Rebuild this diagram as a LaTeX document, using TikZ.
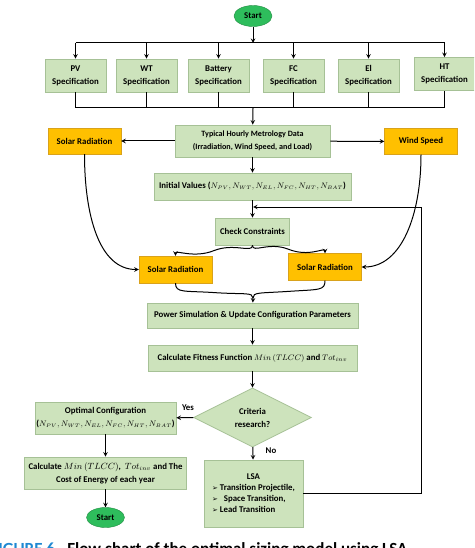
\documentclass[tikz,border=0pt]{standalone}
\usepackage{fontspec}
\setmainfont{Carlito}
\newfontfamily\symfont{DejaVu Sans}
\usepackage{amsmath}
\usepackage{xcolor}
\usetikzlibrary{shapes.geometric, arrows, positioning, calc}
\definecolor{boxgreen}{HTML}{CDE3BC}
\definecolor{boxedge}{HTML}{A6C196}
\definecolor{solarorange}{HTML}{FFC000}
\definecolor{solaredge}{HTML}{D9A21B}
\definecolor{startgreen}{HTML}{2EBD5C}
\definecolor{startedge}{HTML}{1F8A40}
\definecolor{capblue}{HTML}{1E88D2}
\tikzstyle{startstop} = [ellipse, minimum width=38pt, minimum height=21pt, inner sep=0pt, text centered, draw=startedge, fill=startgreen]
\tikzstyle{process} = [rectangle, minimum height=26pt, inner sep=1pt, text centered, align=center, draw=boxedge, line width=0.8pt, fill=boxgreen]
\tikzstyle{weather} = [rectangle, minimum width=73pt, minimum height=26pt, inner sep=1pt, text centered, draw=solaredge, fill=solarorange]
\tikzstyle{decision} = [diamond, minimum width=118pt, minimum height=59pt, inner sep=0pt, aspect=2, align=center, text centered, draw=boxedge, line width=0.8pt, fill=boxgreen]
\tikzstyle{arrow} = [line width=1pt,->,>=stealth]
\newcommand{\bul}{{\symfont\fontsize{7}{8}\selectfont ➢}}
\newcommand{\sizes}{{\fontsize{7.6}{9}\selectfont$N_{PV}, N_{WT}, N_{EL}, N_{FC}, N_{HT}, N_{BAT}$}}

\begin{document}
\begin{tikzpicture}[x=1pt, y=-1pt, every node/.style={font=\fontsize{8.8}{13}\selectfont\bfseries}]

    \clip (0,0) rectangle (474,548);
    \fill[white] (0,0) rectangle (474,548);

    % Inizio e specifiche
    \node (start) [startstop] at (253,16) {Start};
    \node (pv) [process, minimum width=61pt, minimum height=33pt] at (75.5,75.5) {PV\\Specification};
    \node (wt) [process, minimum width=61pt, minimum height=33pt, right of=pv, node distance=71pt] {WT\\Specification};
    \node (battery) [process, minimum width=61pt, minimum height=33pt, right of=wt, node distance=72pt] {Battery\\Specification};
    \node (fc) [process, minimum width=61pt, minimum height=33pt, right of=battery, node distance=75pt] {FC\\Specification};
    \node (el) [process, minimum width=61pt, minimum height=33pt, right of=fc, node distance=75pt] {El\\Specification};
    \node (ht) [process, minimum width=61pt, minimum height=33pt, right of=el, node distance=76pt, yshift=1.5pt] {HT\\Specification};

    % Dati meteo
    \node (typical) [process, minimum width=155pt, minimum height=32pt, font=\fontsize{8.1}{12.5}\selectfont\bfseries] at (252.5,141) {Typical Hourly Metrology Data\\(Irradiation, Wind Speed, and Load)};
    \node (solar) [weather] at (84.5,141) {Solar Radiation};
    \node (wind) [weather] at (421,141.5) {Wind Speed};
    \node (initial) [process, minimum width=197pt, minimum height=27pt, below of=typical, node distance=45.5pt] {Initial Values (\sizes)};
    \node (check) [process, minimum width=74pt, minimum height=27pt, below of=initial, node distance=45pt] {Check Constraints};
    \node (solarleft) [weather, minimum height=27pt] at (175.5,269.5) {Solar Radiation};
    \node (solarright) [weather, minimum height=27pt] at (325,267) {Solar Radiation};

    % Simulazione e valutazione
    \node (power) [process, minimum width=211pt, minimum height=25pt] at (252.5,315.5) {Power Simulation \& Update Configuration Parameters};
    \node (fitness) [process, minimum width=209pt, minimum height=26pt, below of=power, node distance=42.5pt] {Calculate Fitness Function {\fontsize{8.2}{9}\selectfont$Min\,(TLCC)$} and {\fontsize{8.2}{9}\selectfont$Tot_{inv}$}};
    \node (criteria) [decision, below of=fitness, node distance=59.5pt] {Criteria\\research?};
    \node (optimal) [process, minimum width=141pt, minimum height=32pt] at (105.5,418) {Optimal Configuration\\(\sizes)};
    \node (calcmin) [process, minimum width=162pt, minimum height=32pt, below of=optimal, node distance=55pt] {Calculate $Min\,(TLCC)$,\ \ $Tot_{inv}$ and The\\Cost of Energy of each year};
    \node (finish) [startstop, minimum height=20pt, below of=calcmin, node distance=44.5pt] {Start};
    \node (lsa) [process, minimum width=99pt, minimum height=67pt, inner sep=0pt] at (253.5,493.5) {\begin{tabular}{@{}c@{}}LSA\\[-2pt]\begin{tabular}{@{}l@{}}\bul\ Transition Projectile,\\[-2pt]\bul\ \ \ Space Transition,\\[-2pt]\bul\ Lead Transition\end{tabular}\end{tabular}};

    % Didascalia (tagliata in basso)
    \node [anchor=base east, font=\fontsize{17}{20}\selectfont\bfseries] at (411,554) {{\color{capblue}FIGURE 6.}\ \ Flow chart of the optimal sizing model using LSA};

    % Etichette "Yes" e "No"
    \node at (188,408) {Yes};
    \node at (271,451) {No};

    % Punti di appoggio
    \coordinate (topbus) at (253,43);
    \coordinate (botbus) at (253,108);
    \coordinate (merge) at (253,298);
    \coordinate (feedback) at (253,207);

    % Frecce del diagramma
    \draw [arrow] (start) -- (topbus);
    \draw [line width=1pt] (pv.north |- topbus) -- (ht.north |- topbus);
    \draw [arrow] (pv.north |- topbus) -- (pv.north);
    \draw [arrow] (wt.north |- topbus) -- (wt.north);
    \draw [arrow] (battery.north |- topbus) -- (battery.north);
    \draw [arrow] (fc.north |- topbus) -- (fc.north);
    \draw [arrow] (el.north |- topbus) -- (el.north);
    \draw [arrow] (ht.north |- topbus) -- (ht.north);
    \draw [line width=1pt] (pv.south) |- (ht.south |- botbus) -- (ht.south);
    \draw [line width=1pt] (wt.south) -- (wt.south |- botbus);
    \draw [line width=1pt] (battery.south) -- (battery.south |- botbus);
    \draw [line width=1pt] (fc.south) -- (fc.south |- botbus);
    \draw [line width=1pt] (el.south) -- (el.south |- botbus);
    \draw [arrow] (botbus) -- (typical);
    \draw [arrow] (typical) -- (solar);
    \draw [arrow] (typical) -- (wind);
    \draw [arrow] (typical) -- (initial);
    \draw [arrow] (initial) -- (check);
    \draw [arrow] (check.south) .. controls +(0,8) and +(20,-8) .. ($(check.south)!0.5!(solarleft.north)$) .. controls +(-20,8) and +(0,-6) .. (solarleft.north);
    \draw [arrow] (check.south) .. controls +(0,8) and +(-20,-8) .. ($(check.south)!0.5!(solarright.north)$) .. controls +(20,8) and +(0,-6) .. (solarright.north);
    \draw [arrow] (solar.south) .. controls +(0,60) and +(-40,0) .. (solarleft.west);
    \draw [arrow] (wind.south) .. controls +(0,60) and +(40,0) .. (solarright.east);
    \draw [line width=1pt] (solarleft.south) .. controls +(0,10) and +(-30,-2) .. ($(solarleft.south)!0.5!(merge)+(0,2)$) .. controls +(30,2) and +(0,-6) .. (merge);
    \draw [line width=1pt] (solarright.south) .. controls +(0,10) and +(30,-2) .. ($(solarright.south)!0.5!(merge)+(0,2)$) .. controls +(-30,2) and +(0,-6) .. (merge);
    \draw [arrow] (merge) -- (power);
    \draw [arrow] (power) -- (fitness);
    \draw [arrow] (fitness) -- (criteria);
    \draw [arrow] (criteria) -- (optimal);
    \draw [arrow] (optimal) -- (calcmin);
    \draw [arrow] (calcmin) -- (finish);
    \draw [arrow] (criteria) -- (lsa);
    \draw [arrow] (lsa.east) -- ++(118,0) |- (feedback);

\end{tikzpicture}
\end{document}
